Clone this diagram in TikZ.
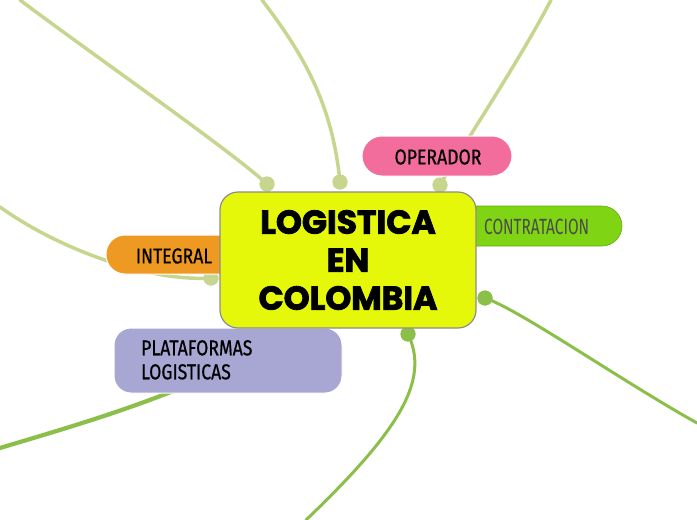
\documentclass[tikz,border=0pt]{standalone}
\usepackage{fontspec}
\setmainfont{Fira Sans}
\newfontfamily\heavy{Poppins}[BoldFeatures={FakeBold=2.5}]
\newfontfamily\lab{Fira Sans}[FakeStretch=0.82, FakeBold=0.6]
\newfontfamily\labn{Fira Sans}[FakeStretch=0.7]
\definecolor{lightline}{HTML}{C6D68E}
\definecolor{darkline}{HTML}{8BBF4A}
\definecolor{centralfill}{HTML}{E6F80A}
\definecolor{opfill}{HTML}{F26C9C}
\definecolor{contfill}{HTML}{7FD414}
\definecolor{intfill}{HTML}{EE9A22}
\definecolor{platfill}{HTML}{A8A6D2}
\definecolor{conttext}{HTML}{4A4A4A}
\tikzset{
  lightconn/.style={draw=lightline, line width=3.5pt, line cap=round},
  darkconn/.style={draw=darkline, line width=3pt, line cap=round},
  lightdot/.style={circle, fill=lightline, minimum size=15pt, inner sep=0pt},
  darkdot/.style={circle, fill=darkline, minimum size=15pt, inner sep=0pt},
  box/.style={draw=white, line width=1pt, inner sep=0pt},
  lbl/.style={inner sep=0pt, font=\lab\fontsize{21.5}{24}\selectfont, text=black},
}
\begin{document}
\begin{tikzpicture}[x=1pt,y=-1pt]
\useasboundingbox (0,0) rectangle (697,520);
% free ends
\coordinate (e1) at (20,0);
\coordinate (e2) at (262,0);
\coordinate (e3) at (551,0);
\coordinate (e4) at (0,207);
\coordinate (e5) at (697,423);
\coordinate (e6) at (306,520);
\coordinate (e7) at (0,448);
\coordinate (s7) at (200,380);
% dots
\node[lightdot] (d1) at (267,184) {};
\node[lightdot] (d2) at (340,182) {};
\node[lightdot] (d3) at (440,185) {};
\node[lightdot] (d4) at (211,278) {};
\node[darkdot] (d5) at (485,298) {};
\node[darkdot] (d6) at (408,334) {};
% connectors
\draw[lightconn] (d1.center) .. controls (230,150) and (100,60) .. (e1);
\draw[lightconn] (d2.center) .. controls (332,100) and (300,50) .. (e2);
\draw[lightconn] (d3.center) .. controls (460,150) and (520,60) .. (e3);
\draw[lightconn] (d4.center) .. controls (150,282) and (60,250) .. (e4);
\draw[darkconn] (d5.center) .. controls (520,310) and (620,380) .. (e5);
\draw[darkconn] (d6.center) .. controls (430,380) and (400,430) .. (e6);
\draw[darkconn, line width=4.2pt] (s7) .. controls (130,410) and (60,430) .. (e7);
% redraw dots on top of lines
\node[lightdot] at (d1) {};
\node[lightdot] at (d2) {};
\node[lightdot] at (d3) {};
\node[lightdot] at (d4) {};
\node[darkdot] at (d5) {};
\node[darkdot] at (d6) {};
% boxes
\node[box, fill=contfill, draw=contfill!80!black, line width=0.6pt, rounded corners=20pt, minimum width=182pt, minimum height=40pt] (contbox) at (531,226) {};
\node[box, fill=intfill, rounded corners=19pt, minimum width=134pt, minimum height=39pt] (intbox) at (173,254.5) {};
\node[box, fill=opfill, rounded corners=20pt, minimum width=150pt, minimum height=40pt] (opbox) at (437,156) {};
\node[box, fill=platfill, rounded corners=17pt, minimum width=228pt, minimum height=65pt] (platbox) at (228,360.5) {};
\node[draw=black!45, line width=1.2pt, fill=centralfill, rounded corners=18pt, minimum width=256pt, minimum height=136pt, inner sep=0pt] (central) at (348,260) {};
% texts
\node[inner sep=0pt, align=center, font=\heavy\bfseries\fontsize{33}{38}\selectfont] (ctext) at (central.center) {LOGISTICA\\EN\\COLOMBIA};
\node[lbl] (optext) at (438,157) {OPERADOR};
\node[lbl, anchor=west, text=conttext, font=\labn\fontsize{22}{24}\selectfont] (conttext) at (484,227) {CONTRATACION};
\node[lbl] (inttext) at (174,256) {INTEGRAL};
\node[lbl, anchor=north west, align=left] (plattext) at (141,340) {PLATAFORMAS\\LOGISTICAS};
\end{tikzpicture}
\end{document}
